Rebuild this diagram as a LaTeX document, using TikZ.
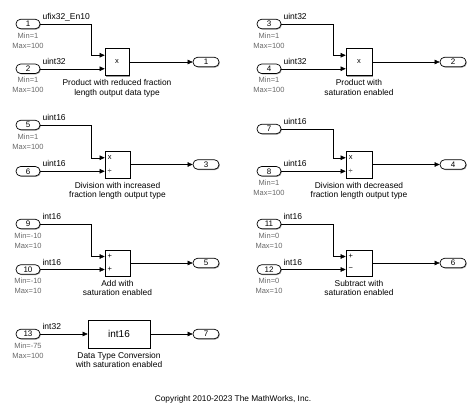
\documentclass[tikz,border=0pt]{standalone}
\usepackage{fontspec}
\setmainfont{Liberation Sans}
\usetikzlibrary{arrows.meta,shadows,calc}
\definecolor{mmgray}{RGB}{105,105,105}
\begin{document}
\begin{tikzpicture}[x=1pt,y=-1pt,
  port/.style={draw, rounded corners=4.6pt, minimum height=9.5pt, inner sep=0pt,
    font=\fontsize{8}{8}\selectfont, line width=0.7pt, fill=white,
    drop shadow={shadow xshift=0.8pt,shadow yshift=-0.8pt,fill=black!40,opacity=1}},
  inport/.style={port, minimum width=24pt},
  outport/.style={port, minimum width=26pt},
  blk/.style={draw, fill=white, line width=0.6pt, inner sep=0pt,
    drop shadow={shadow xshift=1pt,shadow yshift=-1pt,fill=black!40,opacity=1}},
  wire/.style={line width=0.5pt, -{Triangle[length=5pt,width=4.5pt]}},
  lbl/.style={font=\fontsize{8.5}{9.5}\selectfont, inner sep=0pt, anchor=base west},
  mm/.style={font=\fontsize{7.5}{10}\selectfont, text=mmgray, align=center, inner sep=0pt, anchor=north},
  blabel/.style={font=\fontsize{8.4}{9.5}\selectfont, align=center, inner sep=0pt, anchor=north},
  sgn/.style={font=\fontsize{7.5}{7.5}\selectfont, inner sep=0pt}]
\useasboundingbox (0,0) rectangle (474,415);

% ---------- Row 1 left: product reduced fraction
\node[blk, minimum width=24pt, minimum height=27pt] (b1) at (117,62) {};
\node[sgn] (b1s) at (b1) {x};
\coordinate (b1p1) at ($(b1.west)+(0,-6.75)$);
\coordinate (b1p2) at ($(b1.west)+(0,6.75)$);
\node[inport] (i1) at (28,24) {1};
\node[inport] (i2) at (28,68.75) {2};
\node[outport] (o1) at (206,62) {1};
\draw[wire] (i1.east) -| ([xshift=-13pt]b1p1) -- (b1p1);
\draw[wire] (i2.east) -- (b1p2);
\draw[wire] (b1.east) -- (o1.west);
\node[lbl] (w1) at ($(i1.east)+(2,-4.5)$) {ufix32\_En10};
\node[lbl] (w2) at ($(i2.east)+(2,-4.5)$) {uint32};
\node[mm] (m1) at ($(i1.south)+(0,3.5)$) {Min=1\\Max=100};
\node[mm] (m2) at ($(i2.south)+(0,3.5)$) {Min=1\\Max=100};
\node[blabel] (l1) at ($(b1.south)+(0,3.5)$) {Product with reduced fraction\\length output data type};

% ---------- Row 1 right: product saturation
\node[blk, minimum width=26pt, minimum height=27pt] (b2) at (359,62) {};
\node[sgn] (b2s) at (b2) {x};
\coordinate (b2p1) at ($(b2.west)+(0,-6.75)$);
\coordinate (b2p2) at ($(b2.west)+(0,6.75)$);
\node[inport] (i3) at (269,24) {3};
\node[inport] (i4) at (269,68.75) {4};
\node[outport] (o2) at (453,62) {2};
\draw[wire] (i3.east) -| ([xshift=-12pt]b2p1) -- (b2p1);
\draw[wire] (i4.east) -- (b2p2);
\draw[wire] (b2.east) -- (o2.west);
\node[lbl] (w3) at ($(i3.east)+(2,-4.5)$) {uint32};
\node[lbl] (w4) at ($(i4.east)+(2,-4.5)$) {uint32};
\node[mm] (m3) at ($(i3.south)+(0,3.5)$) {Min=1\\Max=100};
\node[mm] (m4) at ($(i4.south)+(0,3.5)$) {Min=1\\Max=100};
\node[blabel] (l2) at ($(b2.south)+(0,3.5)$) {Product with\\saturation enabled};

% ---------- Row 2 left: division increased
\node[blk, minimum width=25pt, minimum height=27pt] (b3) at (117.5,164.5) {};
\coordinate (b3p1) at ($(b3.west)+(0,-6.75)$);
\coordinate (b3p2) at ($(b3.west)+(0,6.75)$);
\node[sgn] (b3s1) at ($(b3p1)+(5,0)$) {x};
\node[sgn] (b3s2) at ($(b3p2)+(5,0)$) {÷};
\node[inport] (i5) at (28,125) {5};
\node[inport] (i6) at (28,171.25) {6};
\node[outport] (o3) at (206,164.5) {3};
\draw[wire] (i5.east) -| ([xshift=-13pt]b3p1) -- (b3p1);
\draw[wire] (i6.east) -- (b3p2);
\draw[wire] (b3.east) -- (o3.west);
\node[lbl] (w5) at ($(i5.east)+(2,-4.5)$) {uint16};
\node[lbl] (w6) at ($(i6.east)+(2,-4.5)$) {uint16};
\node[mm] (m5) at ($(i5.south)+(0,3.5)$) {Min=1\\Max=100};
\node[blabel] (l3) at ($(b3.south)+(0,3.5)$) {Division with increased\\fraction length output type};

% ---------- Row 2 right: division decreased
\node[blk, minimum width=26pt, minimum height=27pt] (b4) at (359,164.5) {};
\coordinate (b4p1) at ($(b4.west)+(0,-6.75)$);
\coordinate (b4p2) at ($(b4.west)+(0,6.75)$);
\node[sgn] (b4s1) at ($(b4p1)+(5,0)$) {x};
\node[sgn] (b4s2) at ($(b4p2)+(5,0)$) {÷};
\node[inport] (i7) at (269,129) {7};
\node[inport] (i8) at (269,171.25) {8};
\node[outport] (o4) at (453,164.5) {4};
\draw[wire] (i7.east) -| ([xshift=-12pt]b4p1) -- (b4p1);
\draw[wire] (i8.east) -- (b4p2);
\draw[wire] (b4.east) -- (o4.west);
\node[lbl] (w7) at ($(i7.east)+(2,-4.5)$) {uint16};
\node[lbl] (w8) at ($(i8.east)+(2,-4.5)$) {uint16};
\node[mm] (m8) at ($(i8.south)+(0,3.5)$) {Min=1\\Max=100};
\node[blabel] (l4) at ($(b4.south)+(0,3.5)$) {Division with decreased\\fraction length output type};

% ---------- Row 3 left: add
\node[blk, minimum width=25pt, minimum height=26pt] (b5) at (117.5,263) {};
\coordinate (b5p1) at ($(b5.west)+(0,-6.5)$);
\coordinate (b5p2) at ($(b5.west)+(0,6.5)$);
\node[sgn] (b5s1) at ($(b5p1)+(5,0)$) {+};
\node[sgn] (b5s2) at ($(b5p2)+(5,0)$) {+};
\node[inport] (i9) at (28,224) {9};
\node[inport] (i10) at (28,269.5) {10};
\node[outport] (o5) at (206,263) {5};
\draw[wire] (i9.east) -| ([xshift=-13pt]b5p1) -- (b5p1);
\draw[wire] (i10.east) -- (b5p2);
\draw[wire] (b5.east) -- (o5.west);
\node[lbl] (w9) at ($(i9.east)+(2,-4.5)$) {int16};
\node[lbl] (w10) at ($(i10.east)+(2,-4.5)$) {int16};
\node[mm] (m9) at ($(i9.south)+(0,3.5)$) {Min=-10\\Max=10};
\node[mm] (m10) at ($(i10.south)+(0,3.5)$) {Min=-10\\Max=10};
\node[blabel] (l5) at ($(b5.south)+(0,3.5)$) {Add with\\saturation enabled};

% ---------- Row 3 right: subtract
\node[blk, minimum width=26pt, minimum height=26pt] (b6) at (359,263) {};
\coordinate (b6p1) at ($(b6.west)+(0,-6.5)$);
\coordinate (b6p2) at ($(b6.west)+(0,6.5)$);
\node[sgn] (b6s1) at ($(b6p1)+(5,0)$) {+};
\node[sgn] (b6s2) at ($(b6p2)+(5,0)$) {−};
\node[inport] (i11) at (269,224) {11};
\node[inport] (i12) at (269,269.5) {12};
\node[outport] (o6) at (453,263) {6};
\draw[wire] (i11.east) -| ([xshift=-12pt]b6p1) -- (b6p1);
\draw[wire] (i12.east) -- (b6p2);
\draw[wire] (b6.east) -- (o6.west);
\node[lbl] (w11) at ($(i11.east)+(2,-4.5)$) {int16};
\node[lbl] (w12) at ($(i12.east)+(2,-4.5)$) {int16};
\node[mm] (m11) at ($(i11.south)+(0,3.5)$) {Min=0\\Max=10};
\node[mm] (m12) at ($(i12.south)+(0,3.5)$) {Min=0\\Max=10};
\node[blabel] (l6) at ($(b6.south)+(0,3.5)$) {Subtract with\\saturation enabled};

% ---------- Row 4: data type conversion
\node[blk, minimum width=62pt, minimum height=28pt, font=\fontsize{10}{11}\selectfont] (b7) at (119,334) {int16};
\node[inport] (i13) at (28,334) {13};
\node[outport] (o7) at (206,334) {7};
\draw[wire] (i13.east) -- (b7.west);
\draw[wire] (b7.east) -- (o7.west);
\node[lbl] (w13) at ($(i13.east)+(2,-4.5)$) {int32};
\node[mm] (m13) at ($(i13.south)+(0,3.5)$) {Min=-75\\Max=100};
\node[blabel] (l7) at ($(b7.south)+(0,3.5)$) {Data Type Conversion\\with saturation enabled};

% ---------- copyright
\node[font=\fontsize{8.3}{9.5}\selectfont, inner sep=0pt] (cp) at (233,399) {Copyright 2010-2023 The MathWorks, Inc.};
\end{tikzpicture}
\end{document}
